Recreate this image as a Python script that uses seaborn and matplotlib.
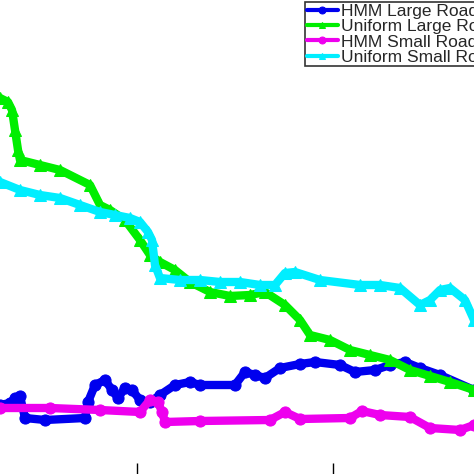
import numpy as np
import pandas as pd
import matplotlib
matplotlib.use("Agg")
import matplotlib.pyplot as plt
import seaborn as sns

# values (x, y in plot units)
hmm_large_x = [0, 10, 15, 20, 25, 45, 85, 88, 95, 105, 112, 118, 125, 132, 140, 150, 160, 175, 190, 200,
               235, 245, 255, 265, 280, 300, 315, 340, 355, 375, 390, 405, 420, 440, 474]
hmm_large_y = [69, 71, 76, 78, 56, 54, 56, 72, 89, 94, 84, 76, 86, 84, 74, 72, 79, 89, 92, 89,
               89, 102, 99, 96, 106, 110, 112, 109, 102, 104, 109, 112, 106, 99, 84]
uni_large_x = [0, 8, 12, 15, 18, 20, 40, 60, 90, 100, 110, 125, 140, 150, 160, 175, 190, 210, 230, 250,
               265, 285, 300, 310, 330, 350, 370, 390, 410, 430, 450, 474]
uni_large_y = [376, 372, 364, 344, 324, 314, 309, 304, 289, 269, 264, 254, 234, 219, 212, 204, 192, 182, 178, 179,
               182, 169, 154, 139, 134, 124, 119, 114, 104, 98, 92, 84]
hmm_small_x = [0, 50, 100, 140, 150, 158, 162, 165, 200, 270, 285, 300, 350, 362, 380, 410, 430, 460, 474]
hmm_small_y = [66, 66, 64, 62, 74, 72, 62, 52, 53, 54, 62, 55, 56, 63, 59, 57, 46, 44, 49]
uni_small_x = [0, 20, 40, 60, 80, 100, 115, 130, 140, 148, 152, 155, 160, 180, 200, 220, 240, 260, 275, 285,
               295, 320, 360, 380, 400, 420, 430, 440, 450, 465, 474]
uni_small_y = [292, 284, 279, 276, 269, 262, 259, 256, 252, 242, 234, 209, 196, 194, 194, 192, 192, 189, 189, 201,
               202, 194, 189, 189, 186, 169, 174, 184, 186, 174, 154]

labels = ["HMM Large Road", "Uniform Large Road", "HMM Small Road", "Uniform Small Road"]
colors = ["#0000ee", "#00ee00", "#ee00ee", "#00eeff"]
markers = ["o", "^", "o", "^"]

frames = []
for name, xs, ys in zip(labels, [hmm_large_x, uni_large_x, hmm_small_x, uni_small_x],
                        [hmm_large_y, uni_large_y, hmm_small_y, uni_small_y]):
    frames.append(pd.DataFrame({"x": xs, "y": ys, "series": name}))
df = pd.concat(frames, ignore_index=True)

sns.set_style("white")
plt.rcParams['font.family'] = ['Liberation Sans', 'DejaVu Sans']

fig = plt.figure(figsize=(4.74, 4.74), dpi=100)
ax = fig.add_axes([0, 0, 1, 1])
for name, col, mk in zip(labels, colors, markers):
    d = df[df["series"] == name]
    sns.lineplot(data=d, x="x", y="y", sort=False, color=col, lw=6, marker=mk,
                 markersize=8, markeredgecolor=col, label=name, ax=ax)

ax.set_xlim(0, 474)
ax.set_ylim(0, 474)
for s in ax.spines.values():
    s.set_visible(False)
ax.set_xticks([137, 333])
ax.set_xticklabels([])
ax.set_yticks([])
ax.tick_params(axis="x", direction="in", length=8, width=1, color="black", bottom=True)
ax.set_xlabel("")
ax.set_ylabel("")

leg = ax.legend(loc="upper left", bbox_to_anchor=(305 / 474, 0.995), fontsize=12.5, frameon=True,
                fancybox=False, edgecolor="black", borderpad=0.1, labelspacing=0.0,
                handlelength=1.8, handletextpad=0.2, borderaxespad=0)
leg.get_frame().set_linewidth(1.2)
for h in leg.legend_handles:
    h.set_linewidth(3)
    h.set_markersize(5)

fig.savefig("out.png", dpi=100)
